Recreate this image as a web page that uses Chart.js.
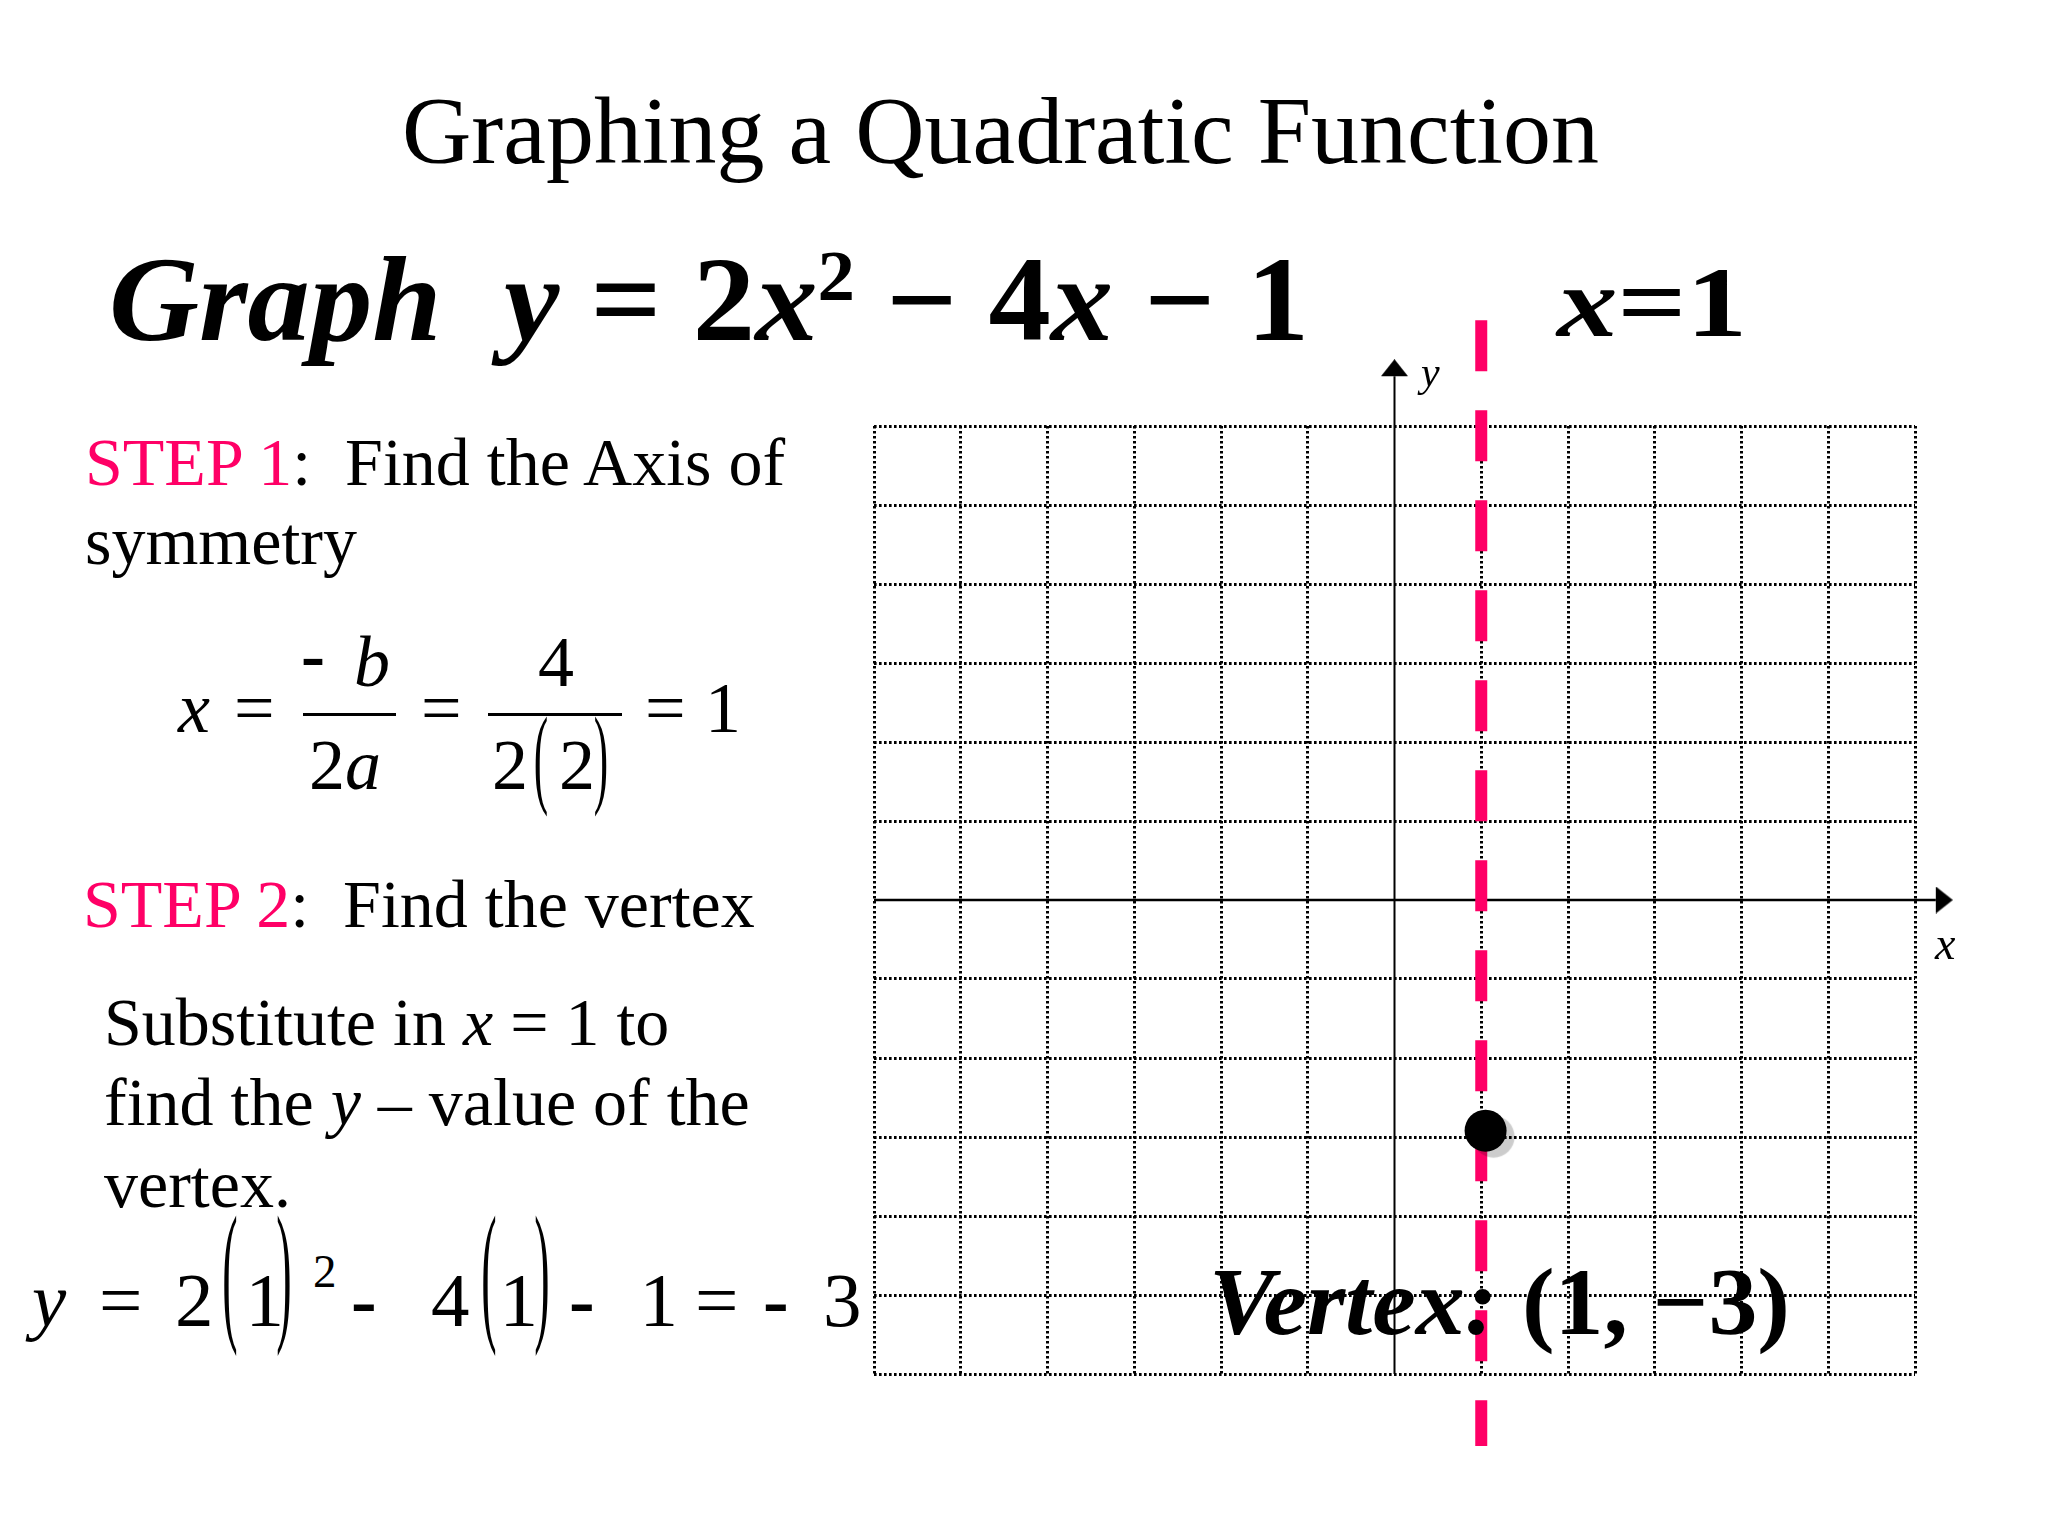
<!DOCTYPE html>
<html>
<head>
<meta charset="utf-8">
<title>Graphing a Quadratic Function</title>
<script src="https://cdn.jsdelivr.net/npm/chart.js@4.4.0/dist/chart.umd.min.js"></script>
<style>
  html, body { margin: 0; padding: 0; background: #fff; }
  #page { position: relative; width: 2048px; height: 1536px; overflow: hidden;
          font-family: "Liberation Serif", "Times New Roman", serif; color: #000; }
  .t { position: absolute; white-space: pre; line-height: 1; transform-origin: 0 50%; }
  .pink { color: #ff0066; }
  .paren { position: absolute; line-height: 1; transform-origin: 50% 0.59em; }
  .bar { position: absolute; height: 2.5px; background: #000; }
  .eqsup { font-size: 0.6em; position: relative; top: -0.55em; line-height: 0; }
  #plot { position: absolute; left: 800px; top: 300px; }
</style>
</head>
<body>
<div id="page">

  <div class="t" style="left:402px; top:82.6px; font-size:96px;">Graphing a Quadratic Function</div>

  <div class="t" id="eqTop" style="left:109px; top:239.5px; font-size:120px; font-weight:bold;"><i>Graph</i>  <i>y</i> = 2<i>x</i><span class="eqsup">2</span> − 4<i>x</i> − 1</div>
  <div class="t" id="axisEq" style="left:1557px; top:253.25px; font-size:100px; font-weight:bold;"><i>x</i>=1</div>

  <!-- step 1 -->
  <div class="t" style="left:85px; top:428px; font-size:68px;"><span class="pink">STEP 1</span>:  Find the Axis of</div>
  <div class="t" style="left:85px; top:507px; font-size:68px;">symmetry</div>

  <!-- x = -b / 2a = 4 / 2(2) = 1 -->
  <div class="t" style="left:178px; top:671.7px; font-size:72px;"><i>x</i></div>
  <div class="t" style="left:234px; top:671.7px; font-size:72px;">=</div>
  <div class="t" style="left:301px; top:618.7px; font-size:72px; font-weight:bold;">-</div>
  <div class="t" style="left:354px; top:625.7px; font-size:72px;"><i>b</i></div>
  <div class="bar" style="left:303px; top:713px; width:93px;"></div>
  <div class="t" style="left:309px; top:728.7px; font-size:72px;">2<i>a</i></div>
  <div class="t" style="left:421px; top:671.7px; font-size:72px;">=</div>
  <div class="t" style="left:538px; top:625.7px; font-size:72px;">4</div>
  <div class="bar" style="left:488px; top:713px; width:134px;"></div>
  <div class="t" style="left:492px; top:728.7px; font-size:72px;">2</div>
  <div class="paren" style="left:529px; top:723.5px; font-size:72px; transform:scale(0.6,1.52);">(</div>
  <div class="t" style="left:559px; top:728.7px; font-size:72px;">2</div>
  <div class="paren" style="left:589px; top:723.5px; font-size:72px; transform:scale(0.6,1.52);">)</div>
  <div class="t" style="left:645px; top:671.7px; font-size:72px;">=</div>
  <div class="t" style="left:705px; top:671.7px; font-size:72px;">1</div>

  <!-- step 2 -->
  <div class="t" style="left:83px; top:870px; font-size:68px;"><span class="pink">STEP 2</span>:  Find the vertex</div>

  <div class="t" style="left:104px; top:988px; font-size:68px;">Substitute in <i>x</i> = 1 to</div>
  <div class="t" style="left:104px; top:1068px; font-size:68px;">find the <i>y</i> – value of the</div>
  <div class="t" style="left:104px; top:1149.7px; font-size:68px;">vertex.</div>

  <!-- y = 2(1)^2 - 4(1) - 1 = -3 -->
  <div class="t" style="left:32px; top:1262.2px; font-size:77px;"><i>y</i></div>
  <div class="t" style="left:99px; top:1262.2px; font-size:77px;">=</div>
  <div class="t" style="left:175px; top:1262.2px; font-size:77px;">2</div>
  <div class="paren" style="left:217px; top:1240.1px; font-size:77px; transform:scale(0.6,2);">(</div>
  <div class="t" style="left:245.5px; top:1262.2px; font-size:77px;">1</div>
  <div class="paren" style="left:271px; top:1240.1px; font-size:77px; transform:scale(0.6,2);">)</div>
  <div class="t" style="left:313px; top:1247.6px; font-size:47px;">2</div>
  <div class="t" style="left:351px; top:1262.2px; font-size:77px; font-weight:bold;">-</div>
  <div class="t" style="left:431px; top:1262.2px; font-size:77px;">4</div>
  <div class="paren" style="left:476px; top:1240.1px; font-size:77px; transform:scale(0.6,2);">(</div>
  <div class="t" style="left:499.5px; top:1262.2px; font-size:77px;">1</div>
  <div class="paren" style="left:529px; top:1240.1px; font-size:77px; transform:scale(0.6,2);">)</div>
  <div class="t" style="left:569px; top:1262.2px; font-size:77px; font-weight:bold;">-</div>
  <div class="t" style="left:639.5px; top:1262.2px; font-size:77px;">1</div>
  <div class="t" style="left:695px; top:1262.2px; font-size:77px;">=</div>
  <div class="t" style="left:763px; top:1262.2px; font-size:77px; font-weight:bold;">-</div>
  <div class="t" style="left:823px; top:1262.2px; font-size:77px;">3</div>

  <canvas id="plot" width="1200" height="1200"></canvas>

  <div class="t" style="left:1421px; top:350.8px; font-size:42px;"><i>y</i></div>
  <div class="t" style="left:1935px; top:920.5px; font-size:46px;"><i>x</i></div>

  <div class="t" id="vertexLabel" style="left:1209px; top:1255.4px; font-size:95px; font-weight:bold;"><i>Vertex:</i> (1, −3)</div>
</div>

<script>
// grid range
const gridMin = -6;
const gridMax = 6;
const gridStep = 1;

// coordinate axes (ends are where the arrow heads sit)
const xAxisLine = [{ x: -6, y: 0 }, { x: 6.24, y: 0 }];
const yAxisLine = [{ x: 0, y: -6 }, { x: 0, y: 6.63 }];

// axis of symmetry x = 1, runs past the grid
const symmetryLine = [{ x: 1, y: 7.34 }, { x: 1, y: -6.91 }];

// vertex
const vertexPoint = [{ x: 1.05, y: -2.92 }];

const pink = '#ff0066';

// arrow head, centre of the image is the middle of its base
function arrowHead(w, h)
{
  const c = document.createElement('canvas');
  c.width = w;
  c.height = h * 2;
  const g = c.getContext('2d');
  g.fillStyle = '#000';
  g.beginPath();
  g.moveTo(w / 2, 0);
  g.lineTo(w, h);
  g.lineTo(0, h);
  g.closePath();
  g.fill();
  return c;
}
const arrow = arrowHead(27, 17);

// only the last point of an axis gets the arrow
function lastOnly(value)
{
  return function (ctx) {
    const n = ctx.dataset.data.length;
    return ctx.dataIndex === n - 1 ? value : 0;
  };
}

const vertexShadow = {
  id: 'vertexShadow',
  beforeDatasetDraw(chart, args) {
    if (chart.data.datasets[args.index].label !== 'Vertex') return;
    const ctx = chart.ctx;
    ctx.save();
    ctx.shadowColor = 'rgba(0,0,0,0.2)';
    ctx.shadowOffsetX = 8;
    ctx.shadowOffsetY = 6;
    ctx.shadowBlur = 1;
  },
  afterDatasetDraw(chart, args) {
    if (chart.data.datasets[args.index].label !== 'Vertex') return;
    chart.ctx.restore();
  }
};

function gridColor(ctx)
{
  if (ctx.tick && ctx.tick.value === 0) return 'rgba(0,0,0,0)';
  return '#000';
}

const config = {
  type: 'scatter',
  data: {
    datasets: [
      {
        label: 'Vertex',
        data: vertexPoint,
        pointRadius: 21,
        pointBackgroundColor: '#000',
        pointBorderWidth: 0,
        order: 0
      },
      {
        label: 'Axis of symmetry',
        data: symmetryLine,
        showLine: true,
        borderColor: pink,
        borderWidth: 12,
        borderDash: [51, 39],
        borderCapStyle: 'butt',
        pointRadius: 0,
        clip: false,
        order: 1
      },
      {
        label: 'x axis',
        data: xAxisLine,
        showLine: true,
        borderColor: '#000',
        borderWidth: 2.5,
        pointStyle: arrow,
        pointRotation: 90,
        pointRadius: lastOnly(40),
        clip: false,
        order: 2
      },
      {
        label: 'y axis',
        data: yAxisLine,
        showLine: true,
        borderColor: '#000',
        borderWidth: 2,
        pointStyle: arrow,
        pointRotation: 0,
        pointRadius: lastOnly(60),
        clip: false,
        order: 3
      }
    ]
  },
  options: {
    responsive: false,
    animation: false,
    events: [],
    layout: { padding: { left: 74, top: 126, right: 85, bottom: 126 } },
    scales: {
      x: {
        type: 'linear',
        min: gridMin, max: gridMax,
        ticks: { display: false, stepSize: gridStep },
        grid: { color: gridColor, lineWidth: 3, drawTicks: false },
        border: { display: false, dash: [2.6, 2.4] }
      },
      y: {
        type: 'linear',
        min: gridMin, max: gridMax,
        ticks: { display: false, stepSize: gridStep },
        grid: { color: gridColor, lineWidth: 3, drawTicks: false },
        border: { display: false, dash: [2.6, 2.4] }
      }
    },
    plugins: {
      legend: { display: false },
      tooltip: { enabled: false }
    }
  },
  plugins: [vertexShadow]
};

new Chart(document.getElementById('plot'), config);

// stretch the equation objects to the width they take on the slide
function fitWidth(id, target)
{
  const el = document.getElementById(id);
  const w = el.getBoundingClientRect().width;
  if (w > 0) el.style.transform = 'scaleX(' + (target / w) + ')';
}
fitWidth('eqTop', 1200);
fitWidth('axisEq', 190);
fitWidth('vertexLabel', 581);
</script>
</body>
</html>
